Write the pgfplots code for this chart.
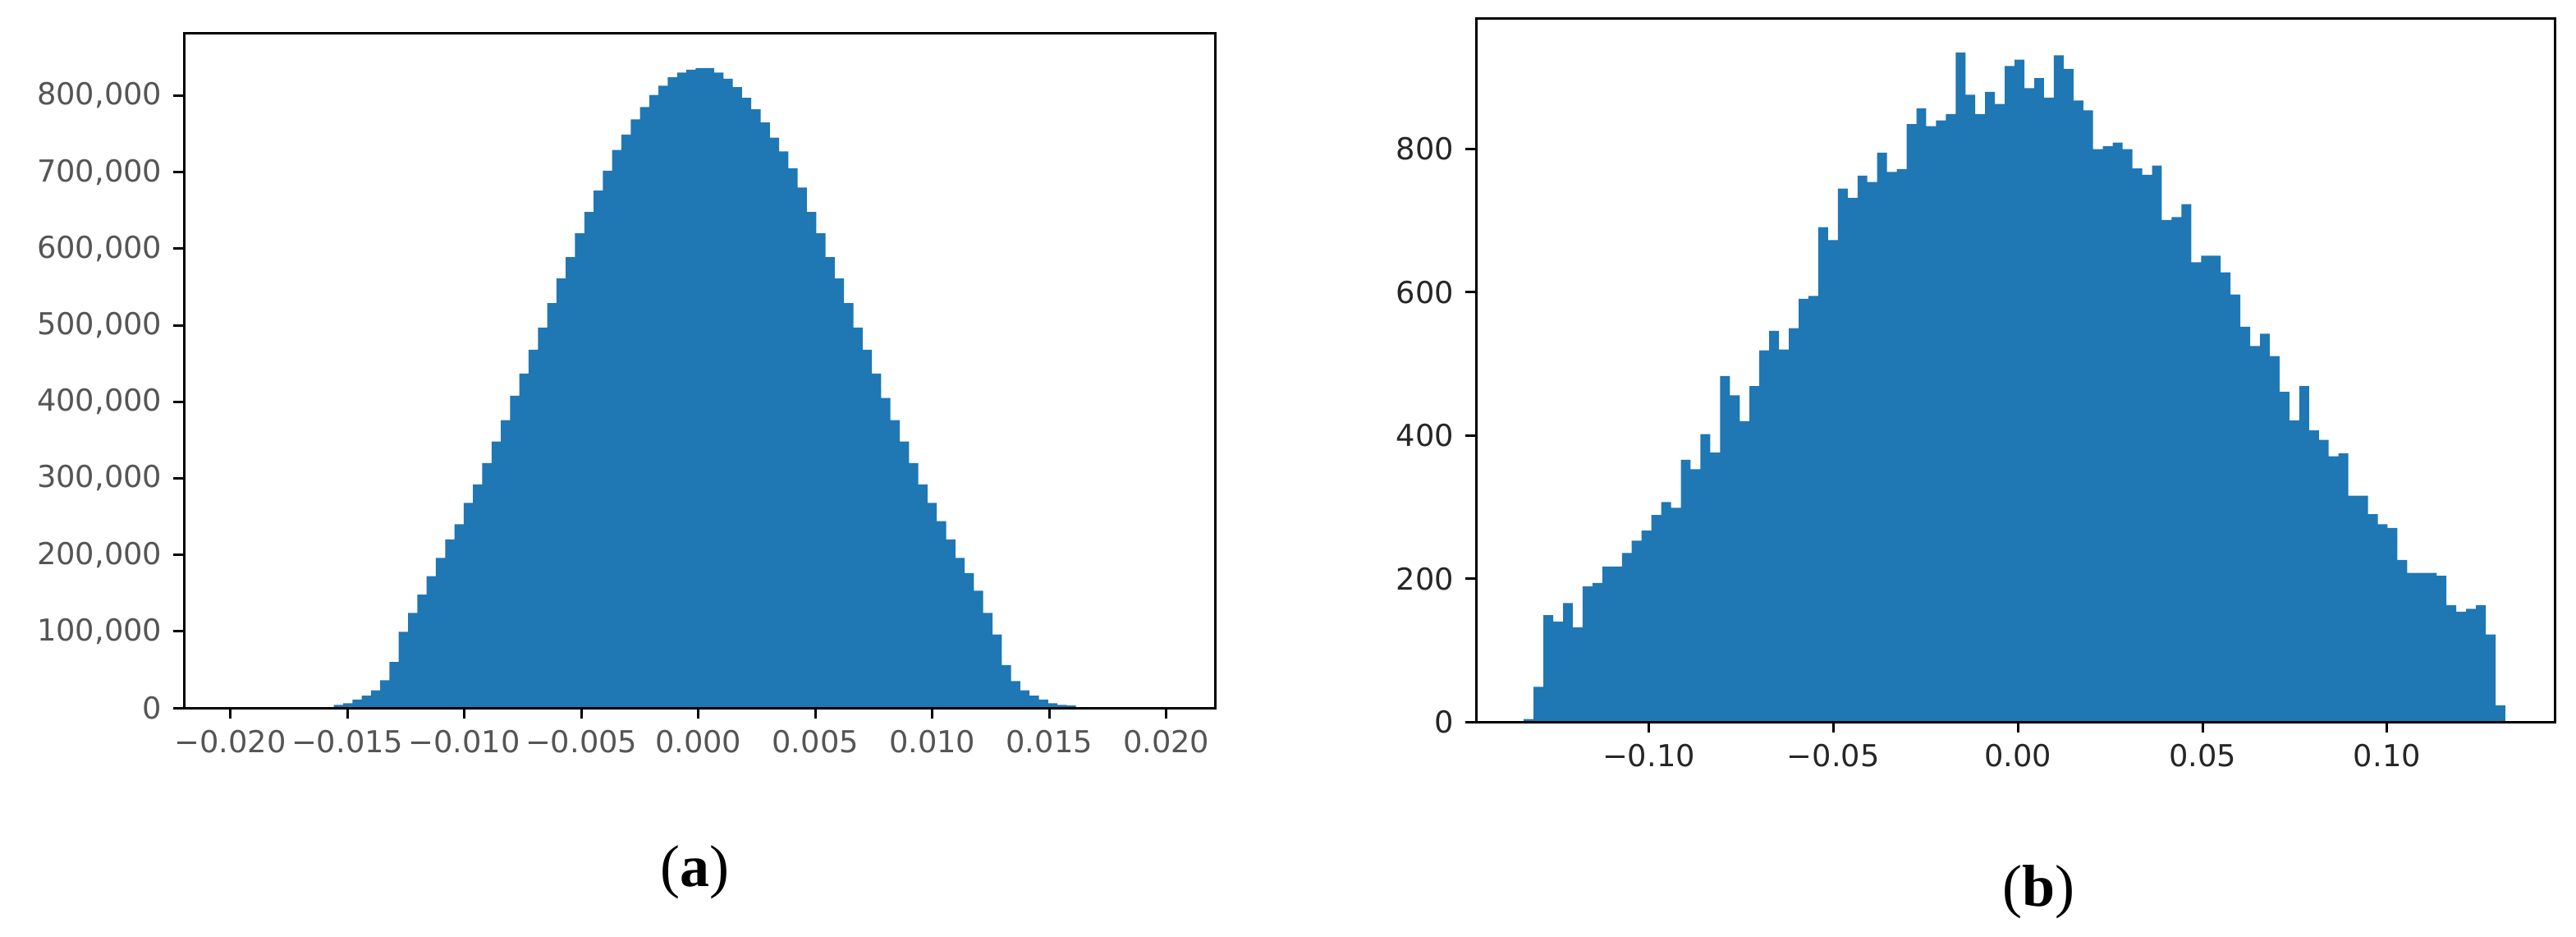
\documentclass[border=0pt]{standalone}
\usepackage{fontspec}
\usepackage{pgfplots}
\pgfplotsset{compat=1.18}
\newfontfamily\dejavu{DejaVu Sans}
\newfontfamily\capserif{Liberation Serif}
\definecolor{barblue}{HTML}{1F77B4}
\definecolor{labgray}{HTML}{555555}
\definecolor{labdark}{HTML}{262626}
\newcommand\capfont{\capserif\fontsize{18}{21}\selectfont}

\pgfplotstableread{
x y
-0.015579 4000
-0.015183 6000
-0.014786 11000
-0.014390 16000
-0.013993 23000
-0.013597 36000
-0.013200 60000
-0.012804 99500
-0.012407 124000
-0.012011 148000
-0.011614 172000
-0.011218 196000
-0.010821 220000
-0.010425 240000
-0.010028 268000
-0.009632 292000
-0.009235 320000
-0.008839 348000
-0.008442 376000
-0.008046 408000
-0.007649 437000
-0.007253 468000
-0.006856 497000
-0.006460 529000
-0.006063 561000
-0.005667 589000
-0.005270 620000
-0.004874 648000
-0.004477 676000
-0.004081 702000
-0.003684 729000
-0.003288 749000
-0.002891 769000
-0.002495 785000
-0.002098 801000
-0.001702 813000
-0.001305 824000
-0.000909 830000
-0.000512 834000
-0.000116 836000
0.000281 836000
0.000677 830000
0.001074 822000
0.001470 811000
0.001867 797000
0.002263 782000
0.002660 765000
0.003056 745000
0.003453 727000
0.003849 705000
0.004246 680000
0.004642 648000
0.005039 620000
0.005435 589000
0.005832 561000
0.006228 529000
0.006625 497000
0.007021 468000
0.007418 437000
0.007814 405000
0.008211 376000
0.008607 348000
0.009004 320000
0.009400 292000
0.009797 268000
0.010193 244000
0.010590 220000
0.010986 196000
0.011383 176000
0.011779 153000
0.012176 124000
0.012572 96000
0.012969 56000
0.013365 35000
0.013762 23000
0.014158 16000
0.014555 11000
0.014951 6000
0.015348 4000
0.015744 3000
0.016141 3000
}\histA

\pgfplotstableread{
x y
-0.13386 4
-0.13120 49
-0.12854 149
-0.12588 140
-0.12322 166
-0.12057 132
-0.11791 189
-0.11525 194
-0.11259 217
-0.10993 217
-0.10727 236
-0.10461 253
-0.10195 267
-0.09929 289
-0.09663 307
-0.09397 299
-0.09132 366
-0.08866 353
-0.08600 402
-0.08334 376
-0.08068 483
-0.07802 456
-0.07536 420
-0.07270 469
-0.07004 519
-0.06738 546
-0.06473 520
-0.06207 550
-0.05941 591
-0.05675 595
-0.05409 691
-0.05143 673
-0.04877 745
-0.04611 732
-0.04345 763
-0.04079 754
-0.03814 795
-0.03548 768
-0.03282 772
-0.03016 835
-0.02750 857
-0.02484 832
-0.02218 840
-0.01952 849
-0.01686 935
-0.01420 876
-0.01155 849
-0.00889 880
-0.00623 863
-0.00357 916
-0.00091 925
0.00175 885
0.00441 899
0.00707 872
0.00973 931
0.01239 912
0.01504 868
0.01770 854
0.02036 800
0.02302 804
0.02568 809
0.02834 800
0.03100 773
0.03366 764
0.03632 777
0.03898 701
0.04163 705
0.04429 723
0.04695 642
0.04961 651
0.05227 651
0.05493 628
0.05759 597
0.06025 552
0.06291 525
0.06557 542
0.06822 511
0.07088 461
0.07354 421
0.07620 469
0.07886 407
0.08152 394
0.08418 371
0.08684 375
0.08950 316
0.09216 316
0.09481 290
0.09747 276
0.10013 271
0.10279 226
0.10545 208
0.10811 208
0.11077 208
0.11343 204
0.11609 163
0.11875 154
0.12140 158
0.12406 163
0.12672 122
0.12938 23
0.13204 23
}\histB

\pgfplotsset{
  histax/.style={
    scale only axis,
    anchor=south west,
    axis on top,
    enlargelimits=false,
    ymin=0,
    tick pos=left,
    tick align=outside,
    major tick length=3.25pt,
    axis line style={line width=0.75pt, black},
    tick style={line width=0.75pt, black},
    ticklabel style={font=\dejavu\fontsize{9.2}{10}\selectfont},
    scaled ticks=false,
  }
}

\begin{document}
\begin{tikzpicture}[x=1pt,y=1pt]
\useasboundingbox (0,0) rectangle (784.5,285);

\begin{axis}[histax,
  at={(56.125pt,69.5pt)},
  width=313.875pt, height=205.5pt,
  xmin=-0.02197, xmax=0.02208,
  ymax=882000,
  xtick={-0.02,-0.015,-0.01,-0.005,0,0.005,0.01,0.015,0.02},
  xticklabels={−0.020,−0.015,−0.010,−0.005,0.000,0.005,0.010,0.015,0.020},
  ytick={0,100000,200000,300000,400000,500000,600000,700000,800000},
  yticklabels={0,{100,000},{200,000},{300,000},{400,000},{500,000},{600,000},{700,000},{800,000}},
  ticklabel style={text=labgray},
]
\addplot[fill=barblue, draw=none, const plot mark left] table[x=x,y=y] {\histA} \closedcycle;
\end{axis}

\begin{axis}[histax,
  at={(449.5pt,65.25pt)},
  width=328.5pt, height=214.25pt,
  xmin=-0.1468, xmax=0.1454,
  ymax=983,
  xtick={-0.1,-0.05,0,0.05,0.1},
  xticklabels={−0.10,−0.05,0.00,0.05,0.10},
  ytick={0,200,400,600,800},
  yticklabels={0,200,400,600,800},
  ticklabel style={text=labdark},
]
\addplot[fill=barblue, draw=none, const plot mark left] table[x=x,y=y] {\histB} \closedcycle;
\end{axis}

\node at (211.5,19.5) {\capfont(\textbf{a})};
\node at (620.75,13.5) {\capfont(\textbf{b})};
\end{tikzpicture}
\end{document}
